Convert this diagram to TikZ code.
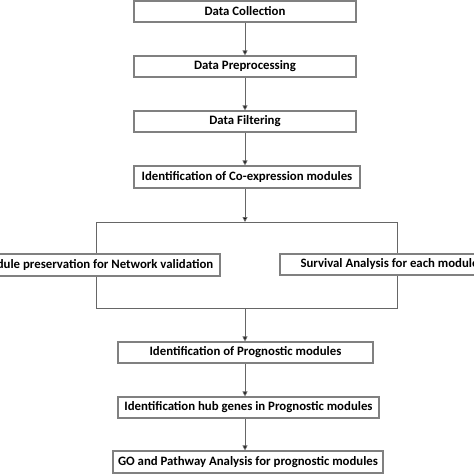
\documentclass[tikz,border=0pt]{standalone}
\usepackage{fontspec}
\setmainfont{Carlito}
\usetikzlibrary{arrows.meta}
\begin{document}
\begin{tikzpicture}[x=1pt,y=-1pt,
  box/.style={draw=black!50,line width=1.1pt,fill=white,inner sep=0pt,
    font=\bfseries\fontsize{12.8}{14}\selectfont},
  conn/.style={draw=black!60,line width=0.9pt},
  arr/.style={conn,-{Triangle[width=5pt,length=5pt,fill=black]}}]
\useasboundingbox (0,0) rectangle (474,474);
\clip (0,0) rectangle (474,474);
\fill[white] (0,0) rectangle (474,474);
\node[box,minimum width=222pt,minimum height=21pt] (b1) at (245,11.5) {Data Collection};
\node[box,minimum width=222pt,minimum height=21pt] (b2) at (245,66.5) {Data Preprocessing};
\node[box,minimum width=222pt,minimum height=21pt] (b3) at (245,121.5) {Data Filtering};
\node[box,minimum width=226pt,minimum height=22pt] (b4) at (247,177) {Identification of Co-expression modules};
\node[box,minimum width=248pt,minimum height=22pt] (bl) at (96,265) {Module preservation for Network validation};
\node[box,minimum width=219pt,minimum height=21pt] (br) at (389.5,264.5) {Survival Analysis for each module};
\node[box,minimum width=255pt,minimum height=21pt] (b5) at (245.5,352.5) {Identification of Prognostic modules};
\node[box,minimum width=261pt,minimum height=21pt] (b6) at (248.5,407.5) {Identification hub genes in Prognostic modules};
\node[box,minimum width=270pt,minimum height=22pt] (b7) at (248,462) {GO and Pathway Analysis for prognostic modules};
\coordinate (j1) at (245,222);
\coordinate (j1l) at (96,222);
\coordinate (j1r) at (397,222);
\coordinate (j2) at (245,308);
\coordinate (j2l) at (96,308);
\coordinate (j2r) at (397,308);
\draw[arr] (b1.south -| 245,0) -- (b2.north -| 245,0);
\draw[arr] (b2.south -| 245,0) -- (b3.north -| 245,0);
\draw[arr] (b3.south -| 245,0) -- (b4.north -| 245,0);
\draw[arr] (b4.south -| j1) -- (j1);
\draw[conn] (bl.north) -- (j1l) -- (j1r) -- (br.north -| j1r);
\draw[conn] (bl.south) -- (j2l) -- (j2r) -- (br.south -| j2r);
\draw[arr] (j2) -- (b5.north -| j2);
\draw[arr] (b5.south -| 245,0) -- (b6.north -| 245,0);
\draw[arr] (b6.south -| 245,0) -- (b7.north -| 245,0);
\end{tikzpicture}
\end{document}
